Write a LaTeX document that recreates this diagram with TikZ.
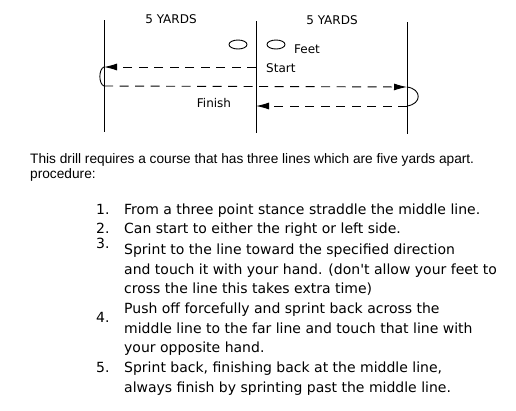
\documentclass[tikz,border=0pt]{standalone}
\usepackage{fontspec}
\setmainfont{Liberation Sans}
\newfontfamily\genevafont{DejaVu Sans}
\usetikzlibrary{arrows.meta,shapes.geometric}

\tikzset{
  yardline/.style={line width=1pt},
  runpath/.style={line width=0.9pt, dash pattern=on 9pt off 6.5pt},
  runarrow/.style={runpath, -{Latex[length=13pt,width=7pt]}},
  turnpath/.style={line width=0.9pt},
  foot/.style={ellipse, draw, line width=0.9pt, minimum width=18pt, minimum height=9pt, inner sep=0pt},
  fieldtext/.style={font=\genevafont\fontsize{12}{14}\selectfont, inner sep=0pt},
  introtext/.style={font=\fontsize{13.7}{15}\selectfont, anchor=base west, inner sep=0pt},
  itemtext/.style={font=\genevafont\fontsize{14}{17}\selectfont, anchor=base west, inner sep=0pt}
}

\begin{document}
\begin{tikzpicture}[x=1pt,y=-1pt]
\useasboundingbox (0,0) rectangle (516,410);

% the three lines
\coordinate (lefttop) at (104,20);
\coordinate (leftbot) at (104,132);
\coordinate (midtop) at (256,21);
\coordinate (midbot) at (256,133);
\coordinate (righttop) at (407,22);
\coordinate (rightbot) at (407,134);
\draw [yardline] (lefttop) -- (leftbot);
\draw [yardline] (midtop) -- (midbot);
\draw [yardline] (righttop) -- (rightbot);

\node [fieldtext, anchor=base] (yardsL) at (171,23) {5 YARDS};
\node [fieldtext, anchor=base] (yardsR) at (332,24) {5 YARDS};

% feet
\node [foot] (footL) at (238,44.5) {};
\node [foot] (footR) at (276,44.5) {};
\node [fieldtext, anchor=base west] (feet) at (294,53) {Feet};

% running path
\coordinate (startM) at (256,67);
\coordinate (startL) at (104,67);
\coordinate (backL) at (104,86);
\coordinate (backR) at (407,87);
\coordinate (finR) at (407,106);
\coordinate (finM) at (256,106);
\draw [runarrow] (startM) -- (startL);
\draw [turnpath] (startL) .. controls (98.5,69) and (98.5,84) .. (backL);
\draw [runarrow] (backL) -- (backR);
\draw [turnpath] (backR) .. controls (422,89) and (422,104) .. (finR);
\draw [runarrow] (finR) -- (finM);

\node [fieldtext, anchor=base west] (start) at (266,72) {Start};
\node [fieldtext, anchor=base] (finish) at (214,107) {Finish};

% text
\node [introtext] (intro) at (30,163) {This drill requires a course that has three lines which are five yards apart.};
\node [introtext] (proc) at (30,178) {procedure:};

\node [itemtext] (n1) at (96,214) {1.};
\node [itemtext] (i1) at (124,214) {From a three point stance straddle the middle line.};
\node [itemtext] (n2) at (96,233) {2.};
\node [itemtext] (i2) at (124,233) {Can start to either the right or left side.};
\node [itemtext] (n3) at (96,248) {3.};
\node [itemtext] (i3a) at (124,254) {Sprint to the line toward the specified direction};
\node [itemtext] (i3b) at (124,274) {and touch it with your hand. (don't allow your feet to};
\node [itemtext] (i3c) at (124,293) {cross the line this takes extra time)};
\node [itemtext] (n4) at (96,322) {4.};
\node [itemtext] (i4a) at (124,313) {Push off forcefully and sprint back across the};
\node [itemtext] (i4b) at (124,333) {middle line to the far line and touch that line with};
\node [itemtext] (i4c) at (124,352) {your opposite hand.};
\node [itemtext] (n5) at (96,372) {5.};
\node [itemtext] (i5a) at (124,372) {Sprint back, finishing back at the middle line,};
\node [itemtext] (i5b) at (124,392) {always finish by sprinting past the middle line.};
\end{tikzpicture}
\end{document}
